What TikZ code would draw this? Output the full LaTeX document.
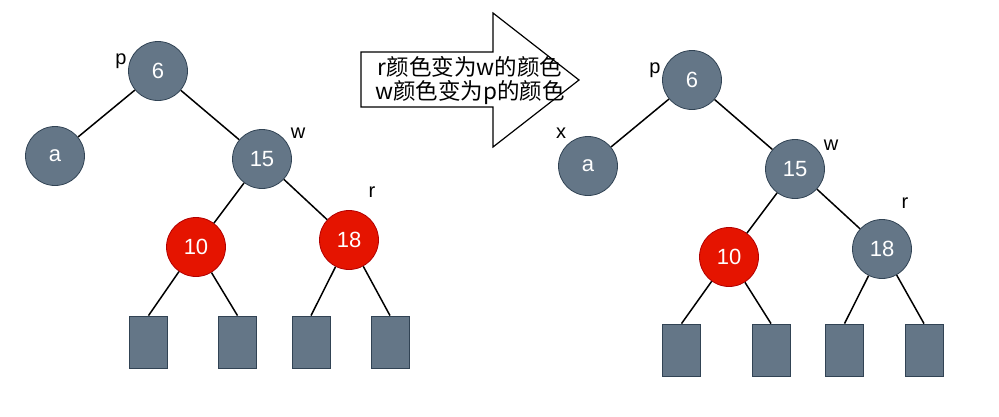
\documentclass[tikz,border=0pt]{standalone}
\usepackage{fontspec}
\setmainfont{Liberation Sans}
\newfontfamily\cjk{Noto Sans CJK SC}
\definecolor{nodegray}{HTML}{647687}
\definecolor{nodegrayline}{HTML}{314354}
\definecolor{nodered}{HTML}{E51400}
\definecolor{noderedline}{HTML}{B20000}
\begin{document}
\begin{tikzpicture}[x=1pt,y=-1pt,
  blacknode/.style={circle,minimum size=59pt,inner sep=0pt,fill=nodegray,draw=nodegrayline,line width=0.8pt,text=white,font=\fontsize{22}{22}\selectfont},
  rednode/.style={blacknode,fill=nodered,draw=noderedline},
  leaf/.style={rectangle,minimum width=38pt,minimum height=52pt,inner sep=0pt,fill=nodegray,draw=nodegrayline,line width=0.8pt},
  edge/.style={line width=1.5pt,black},
  tag/.style={font=\fontsize{20}{20}\selectfont,inner sep=0pt},
  bigarrow/.style={draw=black,fill=white,line width=1.2pt,line join=miter}]
\useasboundingbox (0,0) rectangle (999,416);

% tree before the recolouring
\node[blacknode] (n6) at (158,71) {6};
\node[blacknode] (na) at (55,156) {a};
\node[blacknode] (n15) at (262,159) {15};
\node[rednode] (n10) at (196,247) {10};
\node[rednode] (n18) at (349,240) {18};
\node[leaf] (l1) at (148.5,342) {};
\node[leaf] (l2) at (237.5,342) {};
\node[leaf] (l3) at (311,342) {};
\node[leaf] (l4) at (390,342) {};
\draw[edge] (n6) -- (na);
\draw[edge] (n6) -- (n15);
\draw[edge] (n15) -- (n10);
\draw[edge] (n15) -- (n18);
\draw[edge] (n10) -- (l1.north);
\draw[edge] (n10) -- (l2.north);
\draw[edge] (n18) -- (l3.north);
\draw[edge] (n18) -- (l4.north);
\node[tag] (lp) at (121,61) {p};
\node[tag] (lw) at (298,133) {w};
\node[tag] (lr) at (372,192) {r};

% transition arrow
\draw[bigarrow] (361,52) -- (493,52) -- (493,13) -- (579,80) -- (493,147) -- (493,107) -- (361,107) -- cycle;
\node[align=center,inner sep=0pt,font=\cjk\fontsize{22.5}{24}\selectfont] (rule) at (470,81) {r颜色变为w的颜色\\w颜色变为p的颜色};

% tree after the recolouring
\node[blacknode] (m6) at (692,80) {6};
\node[blacknode] (ma) at (588,166) {a};
\node[blacknode] (m15) at (795,169) {15};
\node[rednode] (m10) at (729,257) {10};
\node[blacknode] (m18) at (882,249) {18};
\node[leaf] (r1) at (681.5,350) {};
\node[leaf] (r2) at (771,350) {};
\node[leaf] (r3) at (844.5,350) {};
\node[leaf] (r4) at (924,350) {};
\draw[edge] (m6) -- (ma);
\draw[edge] (m6) -- (m15);
\draw[edge] (m15) -- (m10);
\draw[edge] (m15) -- (m18);
\draw[edge] (m10) -- (r1.north);
\draw[edge] (m10) -- (r2.north);
\draw[edge] (m18) -- (r3.north);
\draw[edge] (m18) -- (r4.north);
\node[tag] (mp) at (655,70) {p};
\node[tag] (mx) at (561,133) {x};
\node[tag] (mw) at (831,145) {w};
\node[tag] (mr) at (905,203) {r};
\end{tikzpicture}
\end{document}
